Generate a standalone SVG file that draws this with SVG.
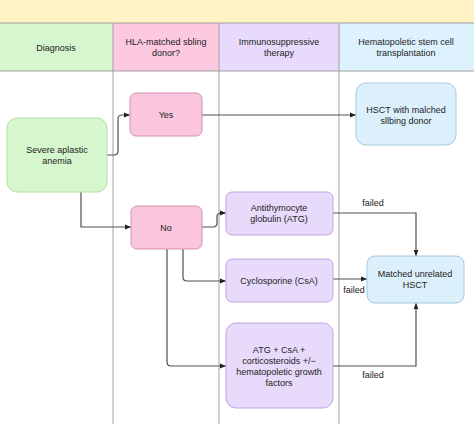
<svg xmlns="http://www.w3.org/2000/svg" width="474" height="424" viewBox="0 0 474 424">
<style>
text{font-family:"Liberation Sans",Arial,sans-serif;font-size:9px;fill:#222;text-anchor:middle}
.div{stroke:#a0a0a0;stroke-width:1;fill:none}
.c{stroke:#505050;stroke-width:1.2;fill:none}
.green{fill:#d6f6cd;stroke:#b5dfa6;stroke-width:1}
.pink{fill:#fac6dd;stroke:#d690ae;stroke-width:1}
.purple{fill:#e8dafb;stroke:#bfa6e2;stroke-width:1}
.blue{fill:#dcf0fc;stroke:#a6c9de;stroke-width:1}
</style>
<defs>
<marker id="a" viewBox="0 0 10 10" refX="10" refY="5" markerWidth="6" markerHeight="6" orient="auto" markerUnits="userSpaceOnUse"><path d="M0,1 L10,5 L0,9 z" fill="#222"/></marker>
</defs>
<rect width="474" height="424" fill="#fff"/>
<g id="lanes">
<rect x="0" y="0" width="474" height="23" fill="#fff3c6"/>
<rect x="0" y="23" width="113" height="48" fill="#d6f6cf"/>
<rect x="113" y="23" width="106" height="48" fill="#fcc9e0"/>
<rect x="219" y="23" width="120" height="48" fill="#e8dafc"/>
<rect x="339" y="23" width="135" height="48" fill="#ddf2fd"/>
<line class="div" x1="0" y1="23" x2="474" y2="23"/>
<line class="div" x1="0" y1="71" x2="474" y2="71"/>
<line class="div" x1="113" y1="23" x2="113" y2="424"/>
<line class="div" x1="219" y1="23" x2="219" y2="424"/>
<line class="div" x1="339" y1="23" x2="339" y2="424"/>
<text x="56" y="51">Diagnosis</text>
<text x="166" y="45">HLA-matched sbling</text>
<text x="166" y="56">donor?</text>
<text x="279" y="45">Immunosuppressive</text>
<text x="279" y="56">therapy</text>
<text x="406" y="45">Hematopoletic stem cell</text>
<text x="406" y="56">transplantation</text>
</g>
<g id="connectors">
<path class="c" d="M107,155 H114 Q118,155 118,151 V119 Q118,115 122,115 H130" marker-end="url(#a)"/>
<path class="c" d="M81,192 V227 H131" marker-end="url(#a)"/>
<path class="c" d="M202,115 H356" marker-end="url(#a)"/>
<path class="c" d="M202,227 H213 Q217,227 217,223 V217 Q217,213 221,213 H226" marker-end="url(#a)"/>
<path class="c" d="M183,249 V277 Q183,281 187,281 H226" marker-end="url(#a)"/>
<path class="c" d="M167,249 V362 Q167,366 171,366 H226" marker-end="url(#a)"/>
<path class="c" d="M333,213 H416 V256" marker-end="url(#a)"/>
<path class="c" d="M333,279 H367" marker-end="url(#a)"/>
<path class="c" d="M333,366 H416 V303" marker-end="url(#a)"/>
<text x="373" y="206">failed</text>
<text x="354" y="293">failed</text>
<text x="373" y="378">failed</text>
</g>
<g id="anemia"><rect class="green" x="7" y="118" width="100" height="74" rx="10"/><text x="57" y="153">Severe aplastic</text><text x="57" y="164">anemia</text></g>
<g id="yes"><rect class="pink" x="130" y="93" width="72" height="43" rx="6"/><text x="166" y="118">Yes</text></g>
<g id="no"><rect class="pink" x="131" y="206" width="71" height="43" rx="6"/><text x="166" y="231">No</text></g>
<g id="hsct-sibling"><rect class="blue" x="356" y="83" width="100" height="62" rx="10"/><text x="406" y="113">HSCT with malched</text><text x="406" y="124">sllbing donor</text></g>
<g id="atg"><rect class="purple" x="226" y="192" width="107" height="43" rx="6"/><text x="279" y="211">Antithymocyte</text><text x="279" y="222">globulin (ATG)</text></g>
<g id="csa"><rect class="purple" x="226" y="259" width="107" height="43" rx="6"/><text x="279" y="284">Cyclosporine (CsA)</text></g>
<g id="combo"><rect class="purple" x="226" y="323" width="107" height="85" rx="10"/><text x="279" y="353">ATG + CsA +</text><text x="279" y="364">corticosteroids +/−</text><text x="279" y="375">hematopoletic growth</text><text x="279" y="386">factors</text></g>
<g id="mud"><rect class="blue" x="367" y="256" width="97" height="47" rx="8"/><text x="415" y="277">Matched unrelated</text><text x="415" y="288">HSCT</text></g>
</svg>
